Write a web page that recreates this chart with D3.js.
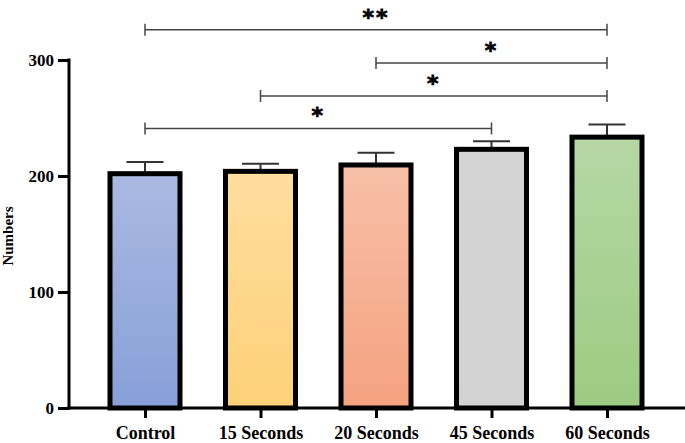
<!DOCTYPE html>
<html><head><meta charset="utf-8">
<script src="https://cdn.jsdelivr.net/npm/d3@7"></script>
<style>
html,body{margin:0;padding:0;background:#fff;}
svg text{font-family:"Liberation Serif","Times New Roman",serif;font-weight:bold;fill:#000;}
</style></head>
<body>
<svg id="chart" width="685" height="443"></svg>
<script>
const categories = ["Control","15 Seconds","20 Seconds","45 Seconds","60 Seconds"];
const means = [202, 204, 209.5, 223, 233.5];
const errors = [10, 6.5, 10.5, 7, 11];
const yTicks = [0, 100, 200, 300];
const colorsTop = ["#aab9e1","#fedd9e","#f7bfa8","#d4d4d4","#b6d7a5"];
const colorsBottom = ["#889fd8","#fdd178","#f5a280","#d2d2d2","#9ccb82"];
const compFrom = ["Control","20 Seconds","15 Seconds","Control"];
const compTo = ["60 Seconds","60 Seconds","60 Seconds","45 Seconds"];
const compLevel = [326, 297.5, 269, 241];
const compLabel = ["**","*","*","*"];

const svg = d3.select("#chart");
const y = d3.scaleLinear().domain([0,300]).range([408,60]);
const x = d3.scalePoint().domain(categories).range([145,607]);
const barW = 70;

const defs = svg.append("defs");
categories.forEach((c,i)=>{
  const g = defs.append("linearGradient").attr("id","g"+i).attr("x1",0).attr("y1",0).attr("x2",0).attr("y2",1);
  g.append("stop").attr("offset","0%").attr("stop-color",colorsTop[i]);
  g.append("stop").attr("offset","100%").attr("stop-color",colorsBottom[i]);
});

// error bars
const eb = svg.append("g").attr("stroke","#333").attr("stroke-width",2).attr("fill","none");
categories.forEach((c,i)=>{
  const cx = x(c);
  eb.append("line").attr("x1",cx).attr("x2",cx).attr("y1",y(means[i])).attr("y2",y(means[i]+errors[i]));
  eb.append("line").attr("x1",cx-18.5).attr("x2",cx+18.5).attr("y1",y(means[i]+errors[i])).attr("y2",y(means[i]+errors[i]));
});

// bars
svg.append("g").selectAll("rect").data(categories).join("rect")
  .attr("x",d=>x(d)-barW/2)
  .attr("y",(d,i)=>y(means[i]))
  .attr("width",barW)
  .attr("height",(d,i)=>y(0)-y(means[i]))
  .attr("fill",(d,i)=>"url(#g"+i+")")
  .attr("stroke","#000").attr("stroke-width",5);

// y axis
const yAxis = svg.append("g").attr("transform","translate(69,0)")
  .call(d3.axisLeft(y).tickValues(yTicks).tickSize(11).tickPadding(4).tickFormat(d3.format("d")));
yAxis.select(".domain").remove();
yAxis.selectAll(".tick line").attr("stroke","#000").attr("stroke-width",3);
yAxis.selectAll(".tick text").style("font-size","17px").attr("dy","0.35em");
svg.append("line").attr("x1",69).attr("x2",69).attr("y1",y(300)-1.5).attr("y2",409.5).attr("stroke","#000").attr("stroke-width",3);

// x axis
const xAxis = svg.append("g").attr("transform","translate(0,408)")
  .call(d3.axisBottom(x).tickSize(10).tickPadding(8));
xAxis.select(".domain").remove();
xAxis.selectAll(".tick line").attr("stroke","#000").attr("stroke-width",3);
xAxis.selectAll(".tick text").style("font-size","18px");
svg.append("line").attr("x1",67.5).attr("x2",685).attr("y1",408).attr("y2",408).attr("stroke","#000").attr("stroke-width",3);

// y label
svg.append("text").attr("transform","translate(13,236) rotate(-90)").attr("text-anchor","middle")
  .style("font-size","15px").text("Numbers");

// significance brackets
const br = svg.append("g");
compFrom.forEach((f,i)=>{
  const x1 = x(f), x2 = x(compTo[i]), yy = y(compLevel[i]);
  const g = br.append("g").attr("stroke","#444").attr("stroke-width",1.5);
  g.append("line").attr("x1",x1).attr("x2",x2).attr("y1",yy).attr("y2",yy);
  g.append("line").attr("x1",x1).attr("x2",x1).attr("y1",yy-6).attr("y2",yy+6);
  g.append("line").attr("x1",x2).attr("x2",x2).attr("y1",yy-6).attr("y2",yy+6);
  br.append("text").attr("x",(x1+x2)/2).attr("y",yy-5).attr("text-anchor","middle")
    .style("font-family","'DejaVu Sans',sans-serif").style("font-weight","bold").style("font-size","22px")
    .style("letter-spacing","2px").attr("stroke","#000").attr("stroke-width",0.8)
    .text(compLabel[i]);
});
</script>
</body></html>
